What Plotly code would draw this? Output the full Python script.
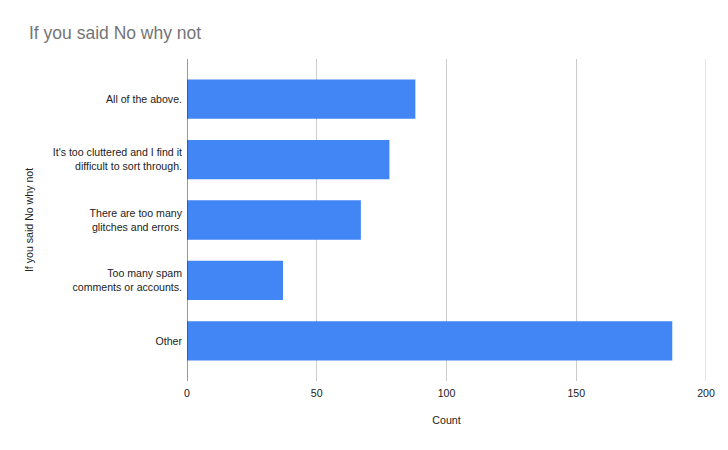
import plotly.graph_objects as go

# data
categories = [
    "All of the above.",
    "It's too cluttered and I find it<br>difficult to sort through.",
    "There are too many<br>glitches and errors.",
    "Too many spam<br>comments or accounts.",
    "Other",
]
counts = [88, 78, 67, 37, 187]
xTicks = [0, 50, 100, 150, 200]

# the page body has an 8px margin, so the figure is sized to fit the window
fig = go.Figure()

fig.add_trace(go.Bar(
    x=counts,
    y=categories,
    orientation='h',
    marker=dict(color='#4285F4', line=dict(width=0)),
    width=0.65,
    hoverinfo="x+y"
))

fig.update_layout(
    width=712, height=434,
    margin=dict(l=179, r=14, t=51, b=61),
    plot_bgcolor="white",
    paper_bgcolor="white",
    font=dict(family="Arial, Liberation Sans, sans-serif", size=10.6, color="#222222"),
    title=dict(
        text="If you said No why not",
        x=21 / 712, xanchor="left",
        y=1 - 25 / 434, yanchor="middle",
        font=dict(size=17.5, color="#757575")
    ),
    xaxis=dict(
        range=[0, 200],
        tickvals=xTicks,
        showgrid=True, gridcolor="#cccccc", gridwidth=1,
        zeroline=False,
        showline=False,
        ticks="",
        ticklabelstandoff=4,
        automargin=False,
        title=dict(text="Count", standoff=18, font=dict(size=10.6, color="#222222")),
    ),
    yaxis=dict(
        categoryorder="array",
        categoryarray=categories[::-1],
        range=[-0.665, 4.665],
        autorange=False,
        showgrid=False,
        ticks="",
        ticklabelstandoff=4,
        automargin=False,
        title=dict(text="If you said No why not", standoff=17, font=dict(size=10.6, color="#222222")),
    ),
    showlegend=False,
    bargap=0.35,
)

# zero axis line and the right-hand gridline at 200
fig.add_shape(type="line", xref="x", yref="paper", x0=0, x1=0, y0=0, y1=1,
              line=dict(color="#333333", width=1))
fig.add_shape(type="line", xref="x", yref="paper", x0=xTicks[-1], x1=xTicks[-1], y0=0, y1=1,
              line=dict(color="#cccccc", width=1), layer="below")

fig.write_html("out.html")
